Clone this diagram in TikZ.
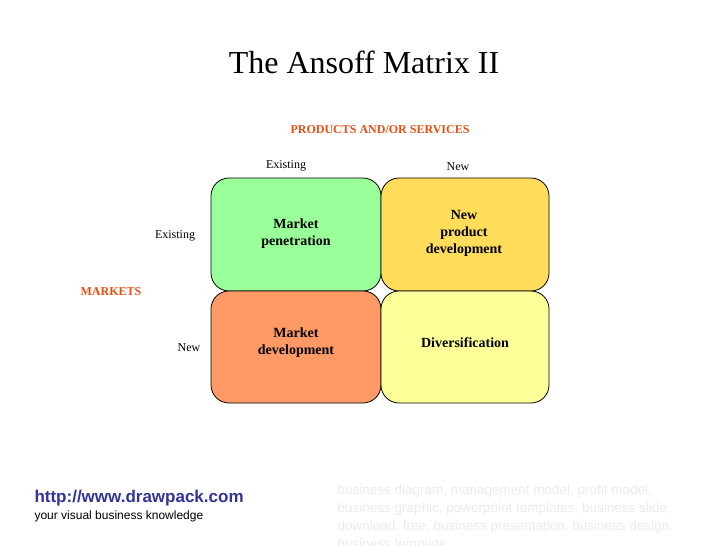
\documentclass[tikz,border=0pt]{standalone}
\usepackage{fontspec}
\setmainfont{Liberation Serif}
\newfontfamily\sansf{Liberation Sans}
\begin{document}
\begin{tikzpicture}[x=1pt,y=-1pt,
  cell/.style={draw=black,line width=0.8pt,rounded corners=18pt},
  celltxt/.style={font=\fontsize{14}{17}\selectfont\bfseries,align=center},
  lab/.style={font=\fontsize{12}{14}\selectfont}]
\useasboundingbox (0,0) rectangle (728,546);
\fill[white] (0,0) rectangle (728,546);
\node[font=\fontsize{32}{38}\selectfont] (title) at (364,62) {The Ansoff Matrix II};
\node[font=\fontsize{12}{14}\selectfont\bfseries,text={rgb,255:red,230;green,80;blue,20}] (ps) at (380,130) {PRODUCTS AND/OR SERVICES};
\node[lab] (ex1) at (286,166) {Existing};
\node[lab] (nw1) at (458,167) {New};
\node[lab] (ex2) at (175,236) {Existing};
\node[lab] (nw2) at (189,348) {New};
\node[font=\fontsize{12}{14}\selectfont\bfseries,text={rgb,255:red,230;green,80;blue,20}] (mk) at (111,292) {MARKETS};
\draw[cell,fill={rgb,255:red,153;green,255;blue,153}] (211,178) rectangle (381,291);
\draw[cell,fill={rgb,255:red,255;green,221;blue,90}] (381,178) rectangle (549,291);
\draw[cell,fill={rgb,255:red,255;green,153;blue,102}] (211,291) rectangle (381,403);
\draw[cell,fill={rgb,255:red,255;green,255;blue,153}] (381,291) rectangle (549,403);
\node[celltxt] (mp) at (296,234) {Market\\penetration};
\node[celltxt] (np) at (464,233) {New\\product\\development};
\node[celltxt] (md) at (296,343) {Market\\development};
\node[celltxt] (dv) at (465,343) {Diversification};
\node[anchor=west,font=\sansf\fontsize{17}{20}\selectfont\bfseries,text={rgb,255:red,51;green,51;blue,153}] (url) at (31,498) {http://www.drawpack.com};
\node[anchor=west,font=\sansf\fontsize{12}{14}\selectfont] (tag) at (31,516) {your visual business knowledge};
\node[anchor=north west,align=left,font=\sansf\fontsize{13.5}{18}\selectfont,text=black!8] (kw) at (334,481) {business diagram, management model, profit model,\\business graphic, powerpoint templates, business slide,\\download, free, business presentation, business design,\\business template};
\end{tikzpicture}
\end{document}
